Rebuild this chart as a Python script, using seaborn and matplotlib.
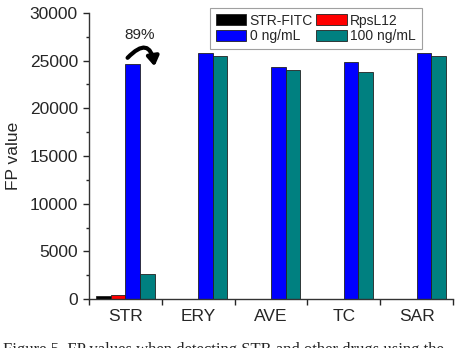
import numpy as np
import pandas as pd
import matplotlib
matplotlib.use("Agg")
import matplotlib.pyplot as plt
from matplotlib.ticker import MultipleLocator
import seaborn as sns

categories = ["STR", "ERY", "AVE", "TC", "SAR"]
series = ["STR-FITC", "RpsL12", "0 ng/mL", "100 ng/mL"]
str_fitc = [300, np.nan, np.nan, np.nan, np.nan]
rpsl12 = [450, np.nan, np.nan, np.nan, np.nan]
blank = [24700, 25800, 24350, 24900, 25850]
dosed = [2600, 25500, 24000, 23850, 25450]
colors = ["#000000", "#ff0000", "#0000ff", "#008080"]

rows = []
for name, vals in zip(series, [str_fitc, rpsl12, blank, dosed]):
    for cat, v in zip(categories, vals):
        rows.append({"drug": cat, "group": name, "fp": v})
df = pd.DataFrame(rows)

sns.set_style("ticks")
plt.rcParams["font.family"] = ["Liberation Sans", "DejaVu Sans"]

fig = plt.figure(figsize=(4.74, 3.48), dpi=100)
ax = fig.add_axes([89 / 474, 1 - 299 / 348, (453 - 89) / 474, (299 - 13) / 348])

sns.barplot(data=df, x="drug", y="fp", hue="group", order=categories,
            hue_order=series, palette=colors, width=0.8, ax=ax,
            edgecolor="#222222", linewidth=0.6, saturation=1, errorbar=None)

ax.set_xlim(-0.5, 4.5)
ax.set_ylim(0, 30000)
ax.yaxis.set_major_locator(MultipleLocator(5000))
ax.yaxis.set_minor_locator(MultipleLocator(2500))
ax.set_xticks(range(len(categories)))
ax.set_xticklabels(categories, fontsize=12.5)
ax.set_xticks(np.arange(-0.5, 5, 1), minor=True)
ax.tick_params(axis="x", which="major", length=0, pad=7)
ax.tick_params(axis="x", which="minor", length=4, width=1, direction="out")
ax.tick_params(axis="y", which="major", length=4, width=1, labelsize=12.5, pad=4)
ax.tick_params(axis="y", which="minor", length=2.5, width=1)
ax.set_xlabel("")
ax.set_ylabel("FP value", fontsize=12.5, labelpad=6)
for s in ["top", "right"]:
    ax.spines[s].set_visible(False)
for s in ["left", "bottom"]:
    ax.spines[s].set_linewidth(1)
    ax.spines[s].set_color("#333333")

# legend filled row by row: STR-FITC, RpsL12 / 0 ng/mL, 100 ng/mL
handles, labels = ax.get_legend_handles_labels()
order = [0, 2, 1, 3]
leg = ax.legend([handles[i] for i in order], [labels[i] for i in order],
                ncol=2, loc="upper left", bbox_to_anchor=(210 / 474, 1 - 8 / 348),
                bbox_transform=fig.transFigure, borderaxespad=0,
                fontsize=10, frameon=True, fancybox=False, edgecolor="#888888",
                handlelength=2.2, handleheight=0.85, columnspacing=0.25,
                handletextpad=0.25, borderpad=0.4, labelspacing=0.12)
leg.get_frame().set_linewidth(0.8)

ax.text(0.19, 27700, "89%", ha="center", va="center", fontsize=11)
ax.annotate("", xy=(0.40, 24400), xytext=(0.03, 25300),
            arrowprops=dict(arrowstyle="-|>,head_length=0.55,head_width=0.35",
                            connectionstyle="arc3,rad=-1.0", color="black",
                            lw=3.0, shrinkA=0, shrinkB=0))

fig.text(3 / 474, 1 - 342 / 348,
         "Figure 5. FP values when detecting STR and other drugs using the",
         ha="left", va="top", fontsize=12, family=["Liberation Serif", "DejaVu Serif"])

fig.savefig("out.png", dpi=100)
